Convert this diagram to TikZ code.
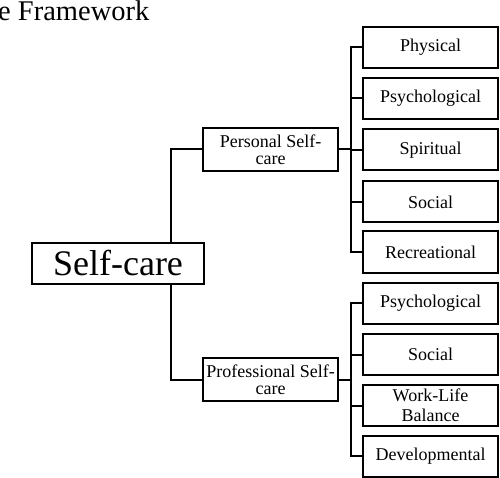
\documentclass[tikz,border=0pt]{standalone}
\usepackage{fontspec}
\setmainfont{Liberation Serif}
\usetikzlibrary{positioning}

\begin{document}
\begin{tikzpicture}[x=1pt,y=1pt,
  box/.style={draw=black, line width=2pt, fill=white, align=center, inner sep=0pt,
    minimum width=135pt, minimum height=41pt, font=\fontsize{18}{17}\selectfont},
  rootbox/.style={box, minimum width=172pt, minimum height=41pt, font=\fontsize{36}{36}\selectfont},
  link/.style={line width=2pt, color=black}]
\useasboundingbox (0,0) rectangle (500,-478);
\node (title) [anchor=base west, inner sep=0pt, font=\fontsize{28.5}{29}\selectfont] at (-2,-21) {e Framework};
% root and the two groups
\node (self) [rootbox] at (118,-263.5) {Self-care};
\node (personal) [box, minimum height=43pt] at (270.5,-149.5) {Personal Self-\\care};
\node (professional) [box, minimum height=43pt] at (270.5,-379.5) {Professional Self-\\care};
\coordinate (trunk) at (171,0);
% personal self-care items
\node (physical) [box] at (430.5,-47.5) {Physical};
\node (psych) [box] at (430.5,-98.5) {Psychological};
\node (spiritual) [box] at (430.5,-150) {Spiritual};
\node (social) [box] at (430.5,-202) {Social};
\node (recreational) [box] at (430.5,-252) {Recreational};
% professional self-care items
\node (propsych) [box] at (430.5,-303) {Psychological};
\node (prosocial) [box] at (430.5,-354.5) {Social};
\node (worklife) [box, font=\fontsize{18}{20}\selectfont] at (430.5,-405.5) {Work-Life\\Balance};
\node (developmental) [box] at (430.5,-456) {Developmental};
\draw [link] (personal.west) -| (self.north -| trunk);
\draw [link] (professional.west) -| (self.south -| trunk);
\foreach \c in {physical,psych,spiritual,social,recreational}
  \draw [link] (personal.east) -| ([xshift=-11pt]\c.west) -- (\c.west);
\foreach \c in {propsych,prosocial,worklife,developmental}
  \draw [link] (professional.east) -| ([xshift=-11pt]\c.west) -- (\c.west);
\end{tikzpicture}
\end{document}
